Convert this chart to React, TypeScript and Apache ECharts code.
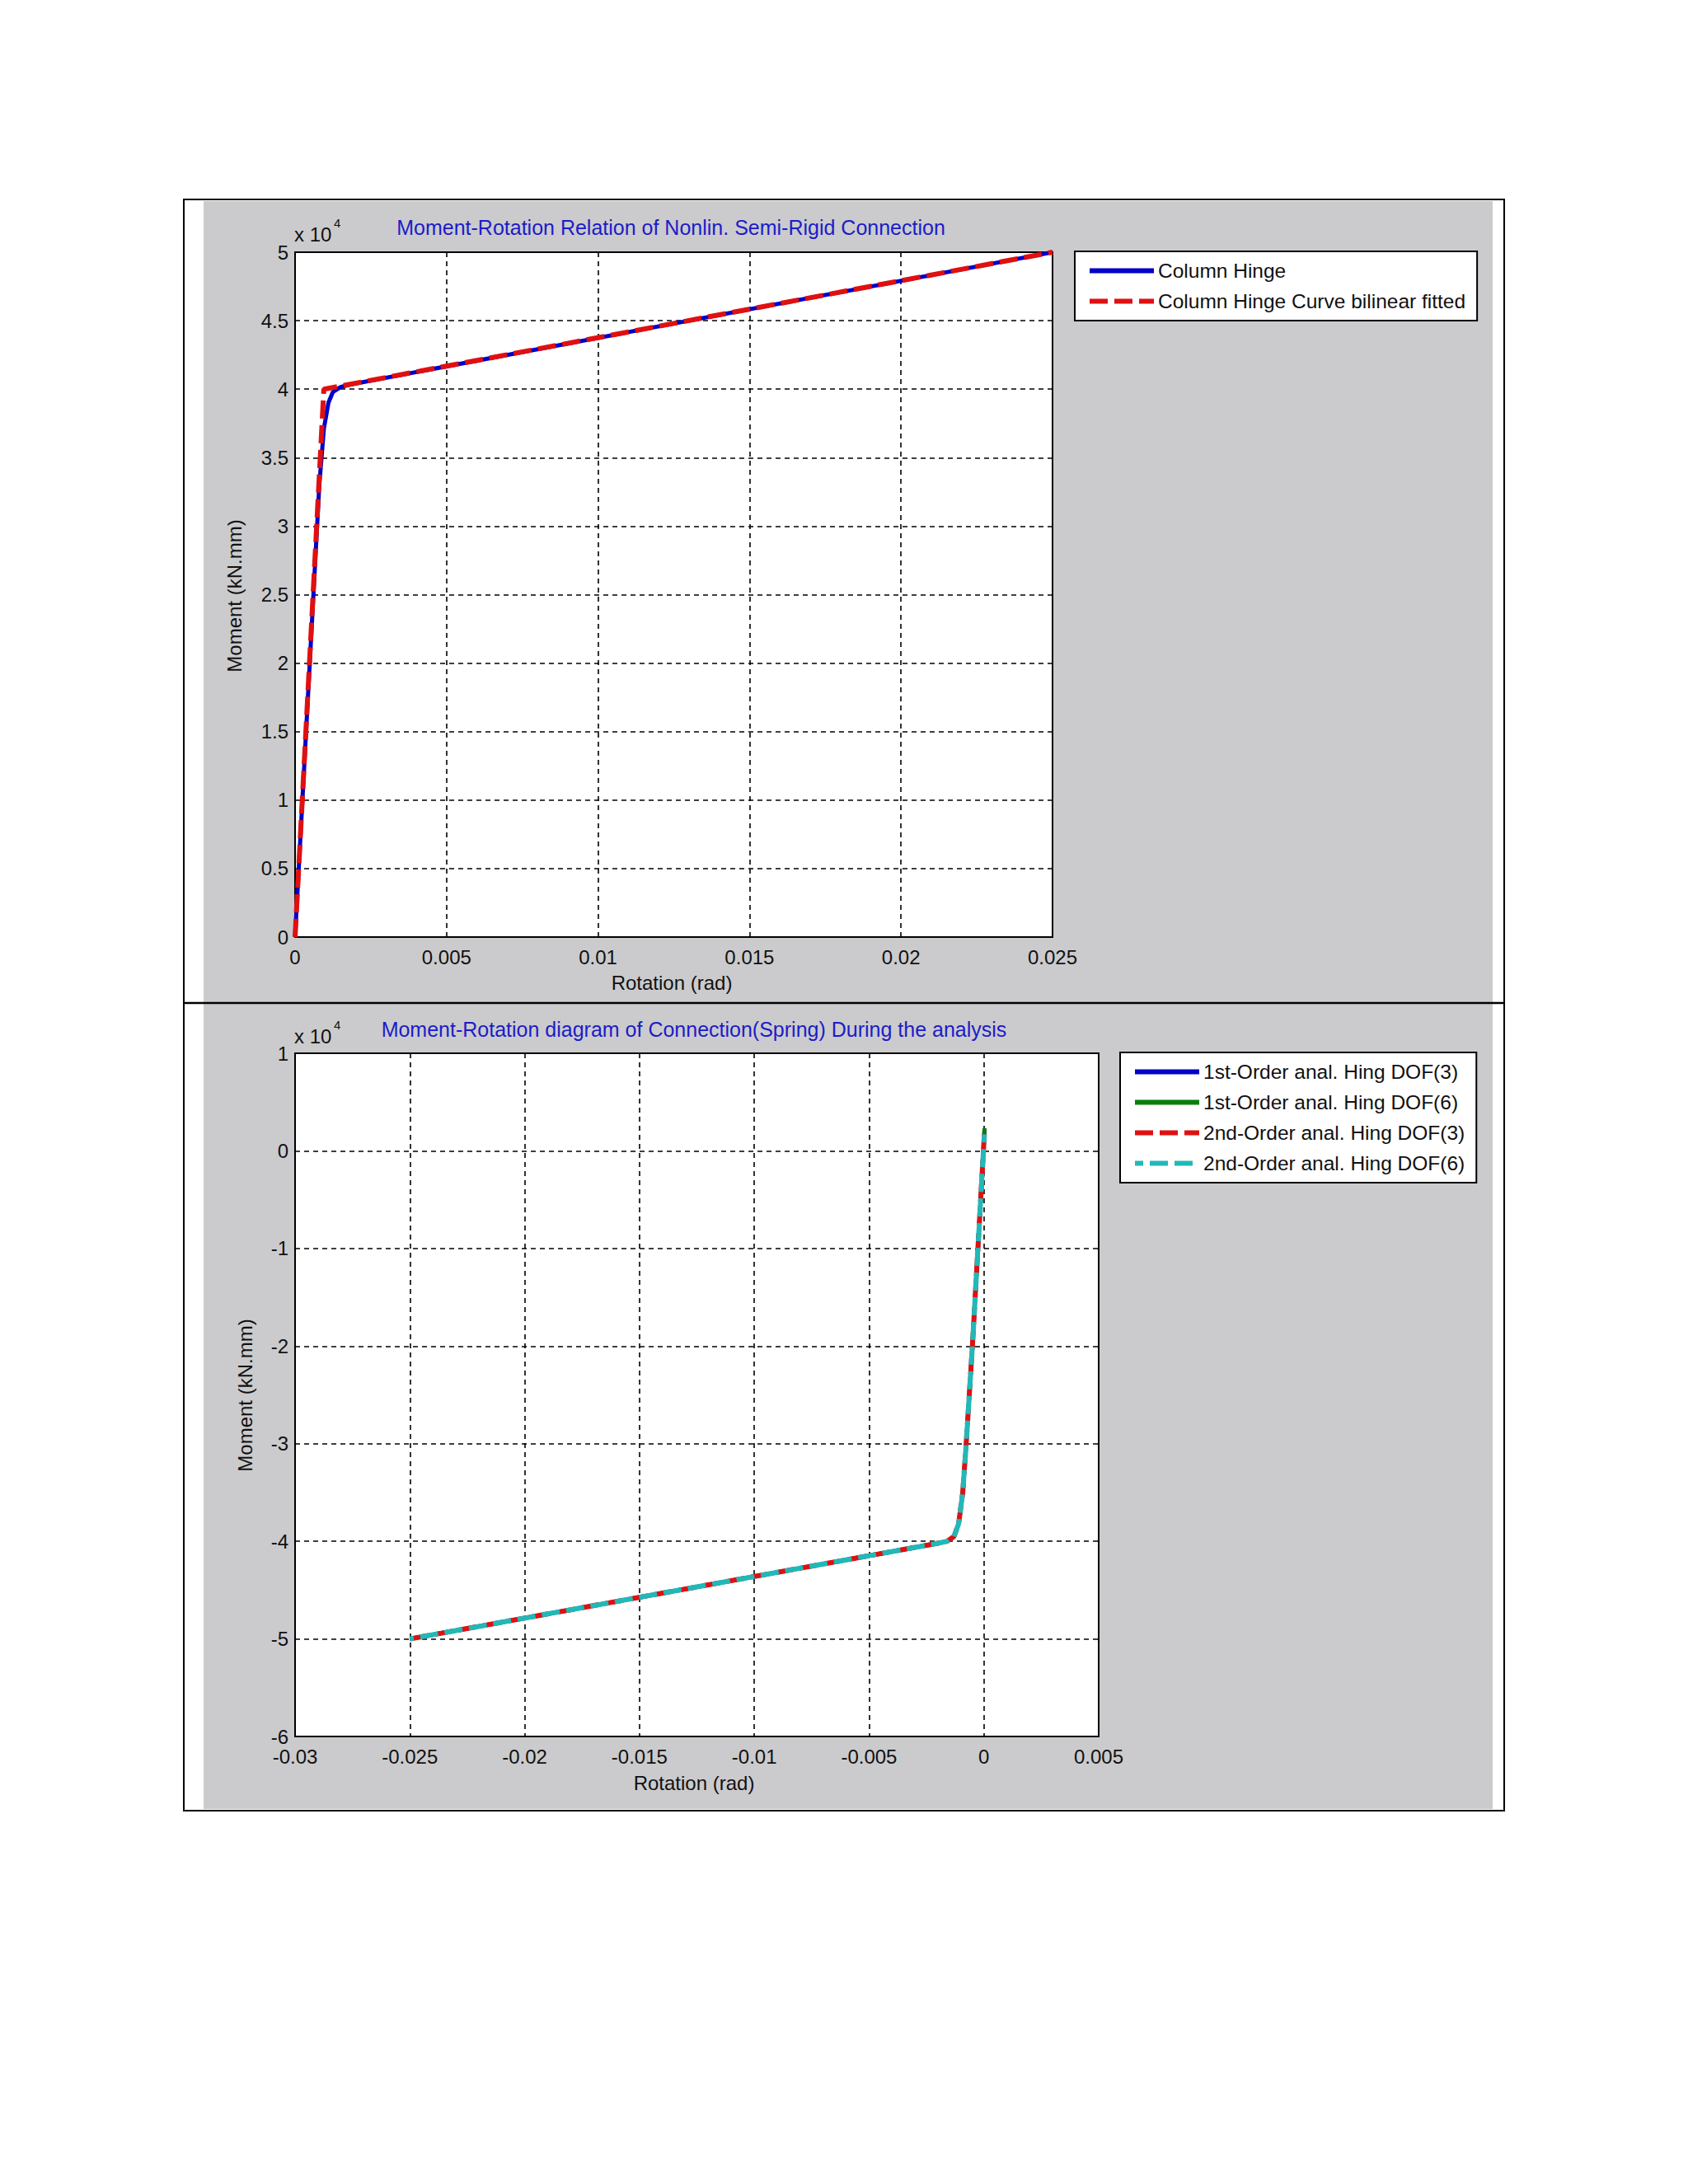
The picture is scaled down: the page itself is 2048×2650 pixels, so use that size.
import React, { useEffect, useRef } from "react";
import * as echarts from "echarts";

// ---------- data (rotation in rad, moment in kN.mm) ----------
const hingeRotation = [0, 0.0008, 0.00095, 0.0011, 0.00125, 0.0015, 0.0018, 0.025];
const hingeMoment = [0, 33000, 37100, 39000, 39800, 40150, 40330, 50000];

const bilinearRotation = [0, 0.00095, 0.025];
const bilinearMoment = [0, 40000, 50000];

const firstOrderRotation = [0.00003, -0.00002, -0.00026, -0.0005, -0.00077, -0.00092, -0.0011, -0.0013, -0.0016, -0.002, -0.025];
const firstOrderMoment = [2300, 0, -10000, -20000, -30000, -35000, -38200, -39500, -40000, -40200, -50000];

const secondOrderRotation = [0.00002, -0.00002, -0.00026, -0.0005, -0.00077, -0.00092, -0.0011, -0.0013, -0.0016, -0.002, -0.025];
const secondOrderMoment = [1700, 0, -10000, -20000, -30000, -35000, -38200, -39500, -40000, -40200, -50000];

// axis ranges / tick steps
const topRotationRange = [0, 0.025, 0.005];
const topMomentRange = [0, 50000, 5000];
const bottomRotationRange = [-0.03, 0.005, 0.005];
const bottomMomentRange = [-60000, 10000, 10000];

const topLegend = ["Column Hinge", "Column Hinge Curve bilinear fitted"];
const bottomLegend = [
  "1st-Order anal. Hing DOF(3)",
  "1st-Order anal. Hing DOF(6)",
  "2nd-Order anal. Hing DOF(3)",
  "2nd-Order anal. Hing DOF(6)",
];

const titles = [
  "Moment-Rotation Relation of Nonlin. Semi-Rigid Connection",
  "Moment-Rotation diagram of Connection(Spring) During the analysis",
];

const FONT = "'Liberation Sans', Arial, sans-serif";

const pairs = (xs: number[], ys: number[]) => xs.map((x, i) => [x, ys[i]]);

const fmtRot = (v: number) => parseFloat(v.toFixed(4)).toString();
const fmtMom = (v: number) => parseFloat((v / 10000).toFixed(2)).toString();

function xAxisOpt(grid: number, r: number[]) {
  return {
    type: "value",
    gridIndex: grid,
    min: r[0],
    max: r[1],
    interval: r[2],
    axisLine: { show: true, onZero: false, lineStyle: { color: "#000", width: 2 } },
    axisTick: { show: false },
    splitLine: { show: true, lineStyle: { color: "#000", type: [6, 5], width: 1.6 } },
    axisLabel: { fontSize: 24, color: "#111", fontFamily: FONT, margin: 12, formatter: fmtRot },
  };
}

function yAxisOpt(grid: number, r: number[]) {
  return {
    type: "value",
    gridIndex: grid,
    min: r[0],
    max: r[1],
    interval: r[2],
    axisLine: { show: true, onZero: false, lineStyle: { color: "#000", width: 2 } },
    axisTick: { show: false },
    splitLine: { show: true, lineStyle: { color: "#000", type: [6, 5], width: 1.6 } },
    axisLabel: { fontSize: 24, color: "#111", fontFamily: FONT, margin: 8, formatter: fmtMom },
  };
}

function legendOpt(data: string[], left: number, top: number, gap: number) {
  return {
    data,
    left,
    top,
    orient: "vertical",
    itemWidth: 78,
    itemHeight: 24,
    itemGap: gap,
    padding: [11, 14, 11, 15],
    backgroundColor: "#fff",
    borderColor: "#000",
    borderWidth: 2,
    selectedMode: false,
    textStyle: { fontSize: 24.5, color: "#111", fontFamily: FONT },
    itemStyle: { opacity: 0 },
    lineStyle: { width: 6 },
  };
}

function text(x: number, y: number, str: string, size: number, fill: string, align = "center", rotation = 0) {
  return {
    type: "text",
    x,
    y,
    rotation,
    z: 50,
    silent: true,
    style: {
      text: str,
      fill,
      font: `${size}px ${FONT}`,
      fontSize: size,
      fontFamily: FONT,
      align,
      textAlign: align,
      verticalAlign: "middle",
      textVerticalAlign: "middle",
    },
  };
}

export default function App() {
  const ref = useRef<HTMLDivElement>(null);

  useEffect(() => {
    if (!ref.current) return;
    const chart = echarts.init(ref.current, undefined, { renderer: "svg" });

    const option: any = {
      animation: false,
      backgroundColor: "#ffffff",
      grid: [
        { left: 358, top: 306, width: 919, height: 831, show: true, backgroundColor: "#fff", borderColor: "#000", borderWidth: 2 },
        { left: 358, top: 1278, width: 975, height: 829, show: true, backgroundColor: "#fff", borderColor: "#000", borderWidth: 2 },
      ],
      xAxis: [xAxisOpt(0, topRotationRange), xAxisOpt(1, bottomRotationRange)],
      yAxis: [yAxisOpt(0, topMomentRange), yAxisOpt(1, bottomMomentRange)],
      legend: [legendOpt(topLegend, 1304, 305, 12), legendOpt(bottomLegend, 1359, 1277, 12)],
      graphic: [
        {
          type: "rect",
          z: -100,
          silent: true,
          shape: { x: 223, y: 242, width: 1602, height: 1955 },
          style: { fill: "#fff", stroke: "#000", lineWidth: 2 },
        },
        {
          type: "rect",
          z: -99,
          silent: true,
          shape: { x: 247, y: 244, width: 1564, height: 1951 },
          style: { fill: "#cbcbcd" },
        },
        {
          type: "line",
          z: -98,
          silent: true,
          shape: { x1: 223, y1: 1217, x2: 1825, y2: 1217 },
          style: { stroke: "#000", lineWidth: 2.5 },
        },
        text(814, 276, titles[0], 25, "#1c1cc8"),
        text(842, 1249, titles[1], 25, "#1c1cc8"),
        text(357, 284, "x 10", 24, "#111", "left"),
        text(405, 270, "4", 15, "#111", "left"),
        text(357, 1257, "x 10", 24, "#111", "left"),
        text(405, 1243, "4", 15, "#111", "left"),
        text(815, 1192, "Rotation (rad)", 24, "#111"),
        text(842, 2163, "Rotation (rad)", 24, "#111"),
        text(284, 723, "Moment (kN.mm)", 24, "#111", "center", Math.PI / 2),
        text(297, 1693, "Moment (kN.mm)", 24, "#111", "center", Math.PI / 2),
      ],
      series: [
        {
          name: topLegend[0],
          type: "line",
          xAxisIndex: 0,
          yAxisIndex: 0,
          symbol: "none",
          data: pairs(hingeRotation, hingeMoment),
          lineStyle: { color: "#0000c8", width: 5 },
          itemStyle: { color: "#0000c8" },
          z: 3,
        },
        {
          name: topLegend[1],
          type: "line",
          xAxisIndex: 0,
          yAxisIndex: 0,
          symbol: "none",
          data: pairs(bilinearRotation, bilinearMoment),
          lineStyle: { color: "#e01010", width: 6, type: [22, 8] },
          itemStyle: { color: "#e01010" },
          z: 4,
        },
        {
          name: bottomLegend[0],
          type: "line",
          xAxisIndex: 1,
          yAxisIndex: 1,
          symbol: "none",
          data: pairs(firstOrderRotation, firstOrderMoment),
          lineStyle: { color: "#0000c8", width: 5 },
          itemStyle: { color: "#0000c8" },
          z: 3,
        },
        {
          name: bottomLegend[1],
          type: "line",
          xAxisIndex: 1,
          yAxisIndex: 1,
          symbol: "none",
          data: pairs(firstOrderRotation, firstOrderMoment),
          lineStyle: { color: "#0a800a", width: 5 },
          itemStyle: { color: "#0a800a" },
          z: 4,
        },
        {
          name: bottomLegend[2],
          type: "line",
          xAxisIndex: 1,
          yAxisIndex: 1,
          symbol: "none",
          data: pairs(secondOrderRotation, secondOrderMoment),
          lineStyle: { color: "#e01010", width: 6, type: [22, 8] },
          itemStyle: { color: "#e01010" },
          z: 5,
        },
        {
          name: bottomLegend[3],
          type: "line",
          xAxisIndex: 1,
          yAxisIndex: 1,
          symbol: "none",
          data: pairs(secondOrderRotation, secondOrderMoment),
          lineStyle: { color: "#22b8b8", width: 6, type: [22, 8], dashOffset: 12 },
          itemStyle: { color: "#22b8b8" },
          z: 6,
        },
      ],
    };

    chart.setOption(option);
    return () => {
      chart.dispose();
    };
  }, []);

  return (
    <div
      ref={ref}
      style={{ position: "absolute", left: 0, top: 0, width: 2048, height: 2650, background: "#fff" }}
    />
  );
}
